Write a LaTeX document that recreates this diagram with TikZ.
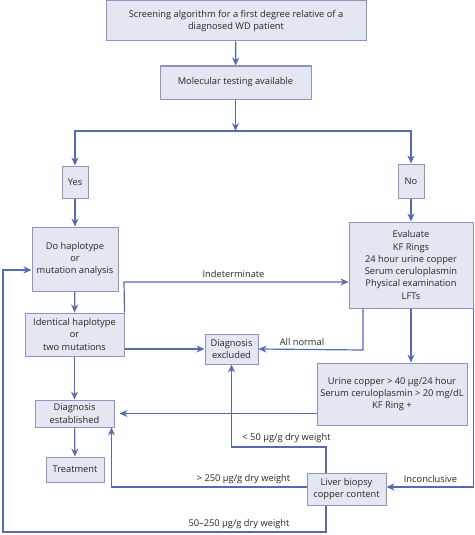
\documentclass[tikz,border=0pt]{standalone}
\usepackage{fontspec}
\setmainfont{Open Sans}
\usetikzlibrary{arrows.meta}
\definecolor{flowblue}{RGB}{86,106,176}
\definecolor{boxfill}{RGB}{228,230,242}
\definecolor{boxline}{RGB}{140,148,192}
\tikzset{
  box/.style={draw=boxline, fill=boxfill, line width=1pt, inner sep=0pt, align=center,
    font=\fontsize{9.3}{12.3}\selectfont, text=black!85},
  flow/.style={draw=flowblue, line width=1.2pt, -{Stealth[length=8pt,width=7pt]}},
  lbl/.style={font=\fontsize{9.3}{11}\selectfont, text=black!85}
}
\begin{document}
\begin{tikzpicture}[x=1pt,y=-1pt]
    \useasboundingbox (0,0) rectangle (474,535);
    % Boxes
    \node[box, minimum width=260pt, minimum height=40pt] (screen) at (236,21) {Screening algorithm for a first degree relative of a\\diagnosed WD patient};
    \node[box, minimum width=151pt, minimum height=33pt] (moltest) at (235.5,82.5) {Molecular testing available};
    \node[box, minimum width=26pt, minimum height=32pt] (yes) at (75,182) {Yes};
    \node[box, minimum width=26pt, minimum height=34pt] (no) at (411,181) {No};
    \node[box, minimum width=86pt, minimum height=64pt] (haplo) at (75,259) {Do haplotype\\or\\mutation analysis};
    \node[box, minimum width=99pt, minimum height=43pt] (ident) at (74.5,334.5) {Identical haplotype\\or\\two mutations};
    \node[box, minimum width=124pt, minimum height=86pt] (evaluate) at (411,265) {Evaluate\\KF Rings\\24 hour urine copper\\Serum ceruloplasmin\\Physical examination\\LFTs};
    \node[box, minimum width=53pt, minimum height=30pt] (excluded) at (231.5,349) {Diagnosis\\excluded};
    \node[box, minimum width=150pt, minimum height=62pt] (urine) at (392,394) {Urine copper > 40 µg/24 hour\\Serum ceruloplasmin > 20 mg/dL\\KF Ring +};
    \node[box, minimum width=79pt, minimum height=27pt] (established) at (74.5,413.5) {Diagnosis\\established};
    \node[box, minimum width=58pt, minimum height=25pt] (treatment) at (75,469.5) {Treatment};
    \node[box, minimum width=79pt, minimum height=32pt] (biopsy) at (346.5,489) {Liver biopsy\\copper content};
    % Bend points
    \coordinate (split) at (235.5,131);
    \coordinate (indet) at (124,282);
    \coordinate (normal) at (363,350);
    \coordinate (lowcu) at (326,447);
    \coordinate (midcu) at (326,532);
    \coordinate (loopx) at (3,532);
    % Connectors
    \draw[flow] (screen) -- (moltest);
    \draw[flow] (moltest) -- (split);
    \draw[flow] (split) -| (yes.north);
    \draw[flow] (split) -| (no.north);
    \draw[flow] (yes) -- (haplo);
    \draw[flow] (no) -- (evaluate);
    \draw[flow] (haplo) -- (ident);
    \draw[flow] (ident.north east) -- (indet) -- (indet -| evaluate.west);
    \draw[flow] (normal |- evaluate.south) -- (normal) -- (excluded.east);
    \draw[flow] (ident.east |- excluded) -- (excluded.west);
    \draw[flow] (evaluate.south) -- (evaluate.south |- urine.north);
    \draw[flow, shorten >=5pt] (urine.west |- established) -- (established.east);
    \draw[flow] (ident) -- (established);
    \draw[flow] (established) -- (treatment);
    \draw[flow] (evaluate.south east) |- ([yshift=2pt]biopsy.east);
    \draw[flow] (lowcu |- biopsy.north) -- (lowcu) -| (excluded.south);
    \draw[flow] ([yshift=2pt]biopsy.west) -| ([xshift=-3pt]established.south east);
    \draw[flow] (midcu |- biopsy.south) -- (midcu) -- (loopx) |- ([yshift=-11pt]haplo.west);
    % Labels
    \node[lbl] (lindet) at (233.5,274) {Indeterminate};
    \node[lbl] (lnormal) at (302,342) {All normal};
    \node[lbl] (llow) at (286.5,438) {< 50 µg/g dry weight};
    \node[lbl] (lhigh) at (243.5,479) {> 250 µg/g dry weight};
    \node[lbl] (lincon) at (430.5,479) {Inconclusive};
    \node[lbl] (lmid) at (239,524) {50–250 µg/g dry weight};
\end{tikzpicture}
\end{document}
